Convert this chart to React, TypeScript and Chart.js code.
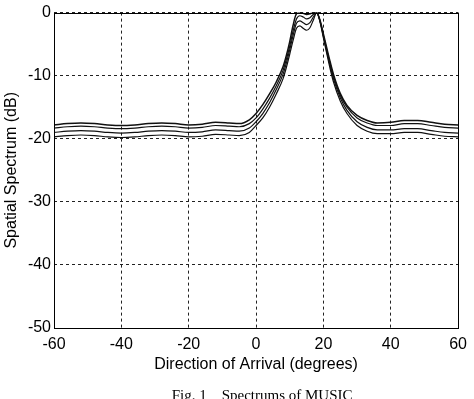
import React, { useEffect, useRef } from "react";
import { Chart, registerables } from "chart.js";

Chart.register(...registerables);

const angles = [-60, -56, -52, -48, -44, -40, -36, -32, -28, -24, -20, -16, -12, -8, -5, -2, 0, 2, 4, 6, 8, 9, 10, 11, 12, 13, 14, 15, 16, 17, 18, 19, 20, 21, 22, 23, 25, 27, 30, 33, 36, 40, 44, 48, 52, 56, 60];

const spectrum1 = [-17.8, -17.6, -17.5, -17.6, -17.8, -17.9, -17.8, -17.6, -17.5, -17.6, -17.8, -17.7, -17.4, -17.5, -17.6, -17.0, -16.0, -14.6, -12.9, -11.0, -8.6, -6.8, -4.6, -2.0, -0.2, 0, -0.1, -0.3, -0.2, 0, 0, -1.2, -3.4, -5.6, -7.8, -9.8, -12.8, -14.7, -16.3, -17.1, -17.5, -17.4, -17.1, -17.1, -17.4, -17.7, -17.8];

const spectrum2 = [-18.3, -18.1, -18.0, -18.1, -18.3, -18.4, -18.3, -18.1, -18.0, -18.1, -18.3, -18.2, -17.9, -18.0, -18.1, -17.6, -16.7, -15.3, -13.6, -11.6, -9.2, -7.4, -5.3, -2.9, -1.0, -0.5, -0.7, -1.0, -0.8, -0.3, 0, -1.3, -3.6, -5.9, -8.1, -10.1, -13.1, -15.0, -16.7, -17.5, -17.9, -17.9, -17.6, -17.6, -17.9, -18.2, -18.3];

const spectrum3 = [-19.0, -18.8, -18.7, -18.8, -19.0, -19.1, -19.0, -18.8, -18.7, -18.8, -19.0, -18.9, -18.6, -18.7, -18.8, -18.3, -17.3, -16.0, -14.3, -12.2, -9.8, -8.0, -5.9, -3.6, -1.7, -1.3, -1.6, -1.9, -1.6, -0.7, 0, -1.4, -3.8, -6.2, -8.5, -10.5, -13.5, -15.5, -17.3, -18.2, -18.6, -18.6, -18.4, -18.4, -18.7, -19.0, -19.1];

const spectrum4 = [-19.7, -19.5, -19.4, -19.5, -19.7, -19.8, -19.7, -19.5, -19.4, -19.5, -19.7, -19.6, -19.3, -19.4, -19.5, -19.0, -17.9, -16.7, -15.0, -12.9, -10.5, -8.7, -6.6, -4.4, -2.5, -2.1, -2.5, -2.8, -2.4, -1.2, 0, -1.5, -4.0, -6.5, -8.9, -11.0, -14.0, -16.0, -17.9, -18.8, -19.2, -19.2, -19.0, -19.0, -19.3, -19.6, -19.7];

const xTicks = [-60, -40, -20, 0, 20, 40, 60];
const yTicks = [0, -10, -20, -30, -40, -50];

const allSeries = [spectrum1, spectrum2, spectrum3, spectrum4];

const framePlugin = {
  id: "frameAndCaption",
  afterDraw(chart: any) {
    const { ctx, chartArea } = chart;
    ctx.save();
    ctx.strokeStyle = "#000";
    ctx.lineWidth = 1;
    ctx.setLineDash([]);
    ctx.strokeRect(
      Math.round(chartArea.left) + 0.5,
      Math.round(chartArea.top) + 0.5,
      Math.round(chartArea.right - chartArea.left),
      Math.round(chartArea.bottom - chartArea.top)
    );
    ctx.fillStyle = "#000";
    ctx.font = "15px 'Liberation Serif', serif";
    ctx.textAlign = "center";
    ctx.textBaseline = "middle";
    ctx.fillText("Fig. 1    Spectrums of MUSIC", (chartArea.left + chartArea.right) / 2 + 6, 396);
    ctx.restore();
  },
};

export default function App() {
  const ref = useRef<HTMLCanvasElement | null>(null);
  useEffect(() => {
    document.body.style.margin = "0";
    const canvas = ref.current;
    if (!canvas) return;
    const chart = new Chart(canvas, {
      type: "line",
      data: {
        datasets: allSeries.map((s, i) => ({
          label: "S" + (i + 1),
          data: angles.map((a, j) => ({ x: a, y: s[j] })),
          borderColor: "#111",
          borderWidth: i === 0 ? 1.5 : 1.2,
          pointRadius: 0,
          fill: false,
          cubicInterpolationMode: "monotone" as const,
        })),
      },
      options: {
        animation: false,
        responsive: false,
        maintainAspectRatio: false,
        layout: { padding: { top: 8, right: 13, left: 0, bottom: 24 } },
        plugins: { legend: { display: false }, tooltip: { enabled: false } },
        scales: {
          x: {
            type: "linear",
            min: -60,
            max: 60,
            afterBuildTicks: (scale: any) => {
              scale.ticks = xTicks.map((v) => ({ value: v }));
            },
            afterFit: (scale: any) => {
              scale.height = 47;
            },
            grid: {
              color: "#222",
              lineWidth: 1,
              drawTicks: false,
            },
            border: { display: false, dash: [3, 3] },
            ticks: {
              color: "#000",
              font: { family: "'Liberation Sans', Arial, sans-serif", size: 16 },
              padding: 7,
              maxRotation: 0,
            },
            title: {
              display: true,
              text: "Direction of Arrival (degrees)",
              color: "#000",
              font: { family: "'Liberation Sans', Arial, sans-serif", size: 16 },
              padding: { top: 0, bottom: 1 },
            },
          },
          y: {
            type: "linear",
            min: -50,
            max: 0,
            afterBuildTicks: (scale: any) => {
              scale.ticks = yTicks.map((v) => ({ value: v }));
            },
            afterFit: (scale: any) => {
              scale.width = 54;
            },
            grid: { color: "#222", lineWidth: 1, drawTicks: false },
            border: { display: false, dash: [3, 3] },
            ticks: {
              color: "#000",
              font: { family: "'Liberation Sans', Arial, sans-serif", size: 16 },
              padding: 3,
            },
            title: {
              display: true,
              text: "Spatial Spectrum (dB)",
              color: "#000",
              font: { family: "'Liberation Sans', Arial, sans-serif", size: 16 },
              padding: { top: 2, bottom: 0 },
            },
          },
        },
      },
      plugins: [framePlugin],
    });
    return () => chart.destroy();
  }, []);
  return (
    <div style={{ width: 474, height: 399, background: "#fff" }}>
      <canvas ref={ref} width={474} height={399} style={{ display: "block" }} />
    </div>
  );
}
